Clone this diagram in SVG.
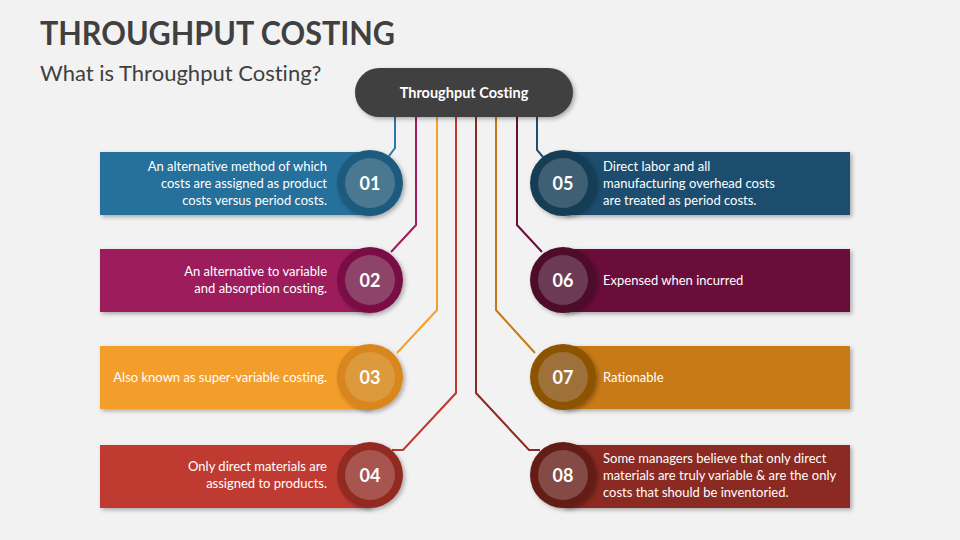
<svg xmlns="http://www.w3.org/2000/svg" width="960" height="540" viewBox="0 0 960 540">
<defs>
<filter id="sh" x="-10%" y="-20%" width="130%" height="150%">
<feDropShadow dx="2" dy="2" stdDeviation="2" flood-color="#000" flood-opacity="0.3"/>
</filter>
<style>
text{font-variant-ligatures:none}
.t{font-family:Lato,"Open Sans","Liberation Sans",sans-serif;fill:#fff;font-size:13px}
.l{text-anchor:end}
.n{font-family:Lato,"Open Sans","Liberation Sans",sans-serif;fill:#fff;font-size:18px;font-weight:bold;text-anchor:middle}
.c{fill:none;stroke-width:2}
</style>
</defs>
<rect width="960" height="540" fill="#f2f2f2"/>
<text x="40" y="45" font-family="Lato,'Open Sans','Liberation Sans',sans-serif" font-size="32" font-weight="bold" fill="#404040" textLength="355" lengthAdjust="spacingAndGlyphs">THROUGHPUT COSTING</text>
<text x="40" y="81" font-family="Lato,'Open Sans','Liberation Sans',sans-serif" font-size="22" fill="#404040">What is Throughput Costing?</text>

<g id="connectors">
<polyline class="c" stroke="#2d78a3" points="395,110 395,148 389,156"/>
<polyline class="c" stroke="#a01a5d" points="416,110 416,225 391,252"/>
<polyline class="c" stroke="#f5a02a" points="437,110 437,310 397,353"/>
<polyline class="c" stroke="#c0392f" points="456,110 456,393 403,450 392,450"/>
<polyline class="c" stroke="#8b2a24" points="476,110 476,393 529,450 540,450"/>
<polyline class="c" stroke="#c77a12" points="496,110 496,310 535,353"/>
<polyline class="c" stroke="#6b0f3a" points="517,110 517,225 542,252"/>
<polyline class="c" stroke="#1f4e6e" points="537,110 537,150 543,157"/>
</g>

<g id="center">
<rect x="355" y="68" width="218" height="49" rx="24.5" fill="#404040" filter="url(#sh)"/>
<text x="464" y="98" text-anchor="middle" font-family="Lato,'Open Sans','Liberation Sans',sans-serif" font-size="14.5" font-weight="bold" fill="#fff">Throughput Costing</text>
</g>

<g id="n01">
<rect x="100" y="152" width="270" height="63" fill="#256f9c" filter="url(#sh)"/>
<circle cx="370" cy="183" r="33" fill="#1f5a7e" filter="url(#sh)"/>
<circle cx="370" cy="183" r="25" fill="#4b7891"/>
<text class="n" x="370" y="189.5">01</text>
<text class="t l" x="327" y="171">An alternative method of which</text>
<text class="t l" x="327" y="188">costs are assigned as product</text>
<text class="t l" x="327" y="205">costs versus period costs.</text>
</g>

<g id="n02">
<rect x="100" y="249" width="270" height="63" fill="#9c1a5b" filter="url(#sh)"/>
<circle cx="370" cy="280" r="33" fill="#7a1145" filter="url(#sh)"/>
<circle cx="370" cy="280" r="25" fill="#8e4469"/>
<text class="n" x="370" y="286.5">02</text>
<text class="t l" x="327" y="276">An alternative to variable</text>
<text class="t l" x="327" y="293">and absorption costing.</text>
</g>

<g id="n03">
<rect x="100" y="346" width="270" height="63" fill="#f39d2c" filter="url(#sh)"/>
<circle cx="370" cy="377" r="33" fill="#d9861a" filter="url(#sh)"/>
<circle cx="370" cy="377" r="25" fill="#dc9a3d"/>
<text class="n" x="370" y="383.5">03</text>
<text class="t l" x="327" y="382">Also known as super-variable costing.</text>
</g>

<g id="n04">
<rect x="100" y="445" width="270" height="63" fill="#bf3a30" filter="url(#sh)"/>
<circle cx="370" cy="475" r="33" fill="#932b24" filter="url(#sh)"/>
<circle cx="370" cy="475" r="25" fill="#a85550"/>
<text class="n" x="370" y="481.5">04</text>
<text class="t l" x="327" y="471">Only direct materials are</text>
<text class="t l" x="327" y="488">assigned to products.</text>
</g>

<g id="n05">
<rect x="563" y="152" width="287" height="63" fill="#1f4e6e" filter="url(#sh)"/>
<circle cx="563" cy="183" r="33" fill="#163d57" filter="url(#sh)"/>
<circle cx="563" cy="183" r="25" fill="#3e5f74"/>
<text class="n" x="563" y="189.5">05</text>
<text class="t" x="603" y="171">Direct labor and all</text>
<text class="t" x="603" y="188">manufacturing overhead costs</text>
<text class="t" x="603" y="205">are treated as period costs.</text>
</g>

<g id="n06">
<rect x="563" y="249" width="287" height="63" fill="#6b0f3a" filter="url(#sh)"/>
<circle cx="563" cy="280" r="33" fill="#4d0a2a" filter="url(#sh)"/>
<circle cx="563" cy="280" r="25" fill="#6d3a55"/>
<text class="n" x="563" y="286.5">06</text>
<text class="t" x="603" y="285">Expensed when incurred</text>
</g>

<g id="n07">
<rect x="563" y="346" width="287" height="63" fill="#c77a12" filter="url(#sh)"/>
<circle cx="563" cy="377" r="33" fill="#8c5306" filter="url(#sh)"/>
<circle cx="563" cy="377" r="25" fill="#9e713a"/>
<text class="n" x="563" y="383.5">07</text>
<text class="t" x="603" y="382">Rationable</text>
</g>

<g id="n08">
<rect x="563" y="445" width="287" height="63" fill="#8b2a24" filter="url(#sh)"/>
<circle cx="563" cy="475" r="33" fill="#631a16" filter="url(#sh)"/>
<circle cx="563" cy="475" r="25" fill="#834a46"/>
<text class="n" x="563" y="481.5">08</text>
<text class="t" x="603" y="463">Some managers believe that only direct</text>
<text class="t" x="603" y="480">materials are truly variable &amp; are the only</text>
<text class="t" x="603" y="497">costs that should be inventoried.</text>
</g>
</svg>
